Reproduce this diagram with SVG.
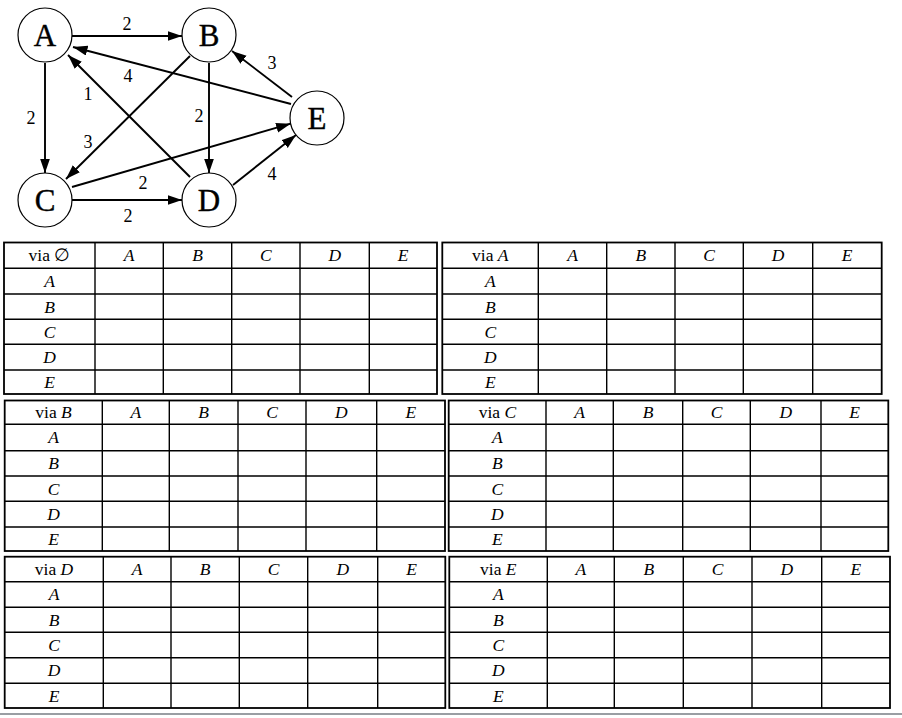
<svg xmlns="http://www.w3.org/2000/svg" width="902" height="718" viewBox="0 0 902 718">
<style>
.node{fill:#fff;stroke:#000;stroke-width:1.2}
.nl{font-family:"Liberation Serif","DejaVu Serif",serif;font-size:31px;text-anchor:middle;fill:#000;stroke:#000;stroke-width:0.4}
.edge{stroke:#000;stroke-width:1.9;fill:none;marker-end:url(#ah)}
.el{font-family:"Liberation Serif","DejaVu Serif",serif;font-size:18px;text-anchor:middle;fill:#000}
.tb{fill:#fff;stroke:#000;stroke-width:1.8}
.gl{stroke:#000;stroke-width:1.4}
.t{font-family:"Liberation Serif","DejaVu Serif",serif;font-size:17.5px;text-anchor:middle;fill:#000}
.i{font-style:italic}
</style>
<defs>
<marker id="ah" markerUnits="userSpaceOnUse" markerWidth="16" markerHeight="11" refX="14.5" refY="5" orient="auto">
<path d="M0,0 L14.5,5 L0,10 z" fill="#000"/>
</marker>
</defs>
<rect width="902" height="718" fill="#fff"/>

<g id="connectors">
<line class="edge" x1="72" y1="36" x2="182" y2="36"/>
<line class="edge" x1="45" y1="63" x2="45" y2="173"/>
<line class="edge" x1="209" y1="63" x2="209" y2="173"/>
<line class="edge" x1="72" y1="200" x2="182" y2="200"/>
<line class="edge" x1="190" y1="56" x2="66" y2="179"/>
<line class="edge" x1="190" y1="177" x2="68" y2="55"/>
<line class="edge" x1="291" y1="104" x2="73" y2="47"/>
<line class="edge" x1="72" y1="187" x2="290.6" y2="123.7"/>
<line class="edge" x1="292" y1="97" x2="232" y2="51"/>
<line class="edge" x1="233" y1="185" x2="296" y2="135"/>
<text class="el" x="127" y="30">2</text>
<text class="el" x="31" y="124">2</text>
<text class="el" x="88" y="148">3</text>
<text class="el" x="199" y="122">2</text>
<text class="el" x="128" y="222">2</text>
<text class="el" x="143" y="189">2</text>
<text class="el" x="88" y="100">1</text>
<text class="el" x="128" y="82">4</text>
<text class="el" x="272" y="69">3</text>
<text class="el" x="272" y="180">4</text>
</g>

<g id="node-A"><circle class="node" cx="45" cy="35" r="27"/><text class="nl" x="45" y="46">A</text></g>
<g id="node-B"><circle class="node" cx="209" cy="35" r="27"/><text class="nl" x="209" y="46">B</text></g>
<g id="node-C"><circle class="node" cx="45" cy="200" r="27"/><text class="nl" x="45" y="211">C</text></g>
<g id="node-D"><circle class="node" cx="209" cy="200" r="27"/><text class="nl" x="209" y="211">D</text></g>
<g id="node-E"><circle class="node" cx="317" cy="118" r="27"/><text class="nl" x="317" y="129">E</text></g>

<g id="table-via-empty">
<rect class="tb" x="4" y="242.5" width="433" height="151.5"/>
<path class="gl" d="M95,242.5V394M163.3,242.5V394M231.7,242.5V394M300,242.5V394M369.3,242.5V394M4,268.3H437M4,294H437M4,319.3H437M4,344.3H437M4,370H437"/>
<text class="t" x="49.5" y="261.4">via ∅</text>
<text class="t i" x="129.2" y="261.4">A</text><text class="t i" x="197.5" y="261.4">B</text><text class="t i" x="265.9" y="261.4">C</text><text class="t i" x="334.7" y="261.4">D</text><text class="t i" x="403.2" y="261.4">E</text>
<text class="t i" x="49.5" y="287.1">A</text><text class="t i" x="49.5" y="312.6">B</text><text class="t i" x="49.5" y="337.7">C</text><text class="t i" x="49.5" y="363.1">D</text><text class="t i" x="49.5" y="387.9">E</text>
</g>

<g id="table-via-A">
<rect class="tb" x="442.3" y="242.5" width="439.4" height="151.5"/>
<path class="gl" d="M538.3,242.5V394M606.7,242.5V394M675,242.5V394M743.3,242.5V394M812.7,242.5V394M442.3,268.3H881.7M442.3,294H881.7M442.3,319.3H881.7M442.3,344.3H881.7M442.3,370H881.7"/>
<text class="t" x="490.3" y="261.4">via <tspan class="i">A</tspan></text>
<text class="t i" x="572.5" y="261.4">A</text><text class="t i" x="640.9" y="261.4">B</text><text class="t i" x="709.2" y="261.4">C</text><text class="t i" x="778" y="261.4">D</text><text class="t i" x="847.2" y="261.4">E</text>
<text class="t i" x="490.3" y="287.1">A</text><text class="t i" x="490.3" y="312.6">B</text><text class="t i" x="490.3" y="337.7">C</text><text class="t i" x="490.3" y="363.1">D</text><text class="t i" x="490.3" y="387.9">E</text>
</g>

<g id="table-via-B">
<rect class="tb" x="4.7" y="400.5" width="440.3" height="150.5"/>
<path class="gl" d="M102.3,400.5V551M169.3,400.5V551M238,400.5V551M306,400.5V551M376.7,400.5V551M4.7,424.3H445M4.7,450.7H445M4.7,476H445M4.7,501.3H445M4.7,527H445"/>
<text class="t" x="53.5" y="418.4">via <tspan class="i">B</tspan></text>
<text class="t i" x="135.8" y="418.4">A</text><text class="t i" x="203.7" y="418.4">B</text><text class="t i" x="272" y="418.4">C</text><text class="t i" x="341.4" y="418.4">D</text><text class="t i" x="410.9" y="418.4">E</text>
<text class="t i" x="53.5" y="443.4">A</text><text class="t i" x="53.5" y="469.3">B</text><text class="t i" x="53.5" y="494.6">C</text><text class="t i" x="53.5" y="520.1">D</text><text class="t i" x="53.5" y="544.9">E</text>
</g>

<g id="table-via-C">
<rect class="tb" x="448.7" y="400.5" width="439.6" height="150.5"/>
<path class="gl" d="M546,400.5V551M613.3,400.5V551M682.7,400.5V551M750.3,400.5V551M821,400.5V551M448.7,424.3H888.3M448.7,450.7H888.3M448.7,476H888.3M448.7,501.3H888.3M448.7,527H888.3"/>
<text class="t" x="497.4" y="418.4">via <tspan class="i">C</tspan></text>
<text class="t i" x="579.7" y="418.4">A</text><text class="t i" x="648" y="418.4">B</text><text class="t i" x="716.5" y="418.4">C</text><text class="t i" x="785.7" y="418.4">D</text><text class="t i" x="854.7" y="418.4">E</text>
<text class="t i" x="497.4" y="443.4">A</text><text class="t i" x="497.4" y="469.3">B</text><text class="t i" x="497.4" y="494.6">C</text><text class="t i" x="497.4" y="520.1">D</text><text class="t i" x="497.4" y="544.9">E</text>
</g>

<g id="table-via-D">
<rect class="tb" x="4.7" y="556.7" width="440.6" height="151.3"/>
<path class="gl" d="M103.3,556.7V708M171,556.7V708M239.3,556.7V708M307.7,556.7V708M377.7,556.7V708M4.7,581.7H445.3M4.7,607.3H445.3M4.7,632.3H445.3M4.7,657.7H445.3M4.7,683.3H445.3"/>
<text class="t" x="54" y="575.1">via <tspan class="i">D</tspan></text>
<text class="t i" x="137.2" y="575.1">A</text><text class="t i" x="205.2" y="575.1">B</text><text class="t i" x="273.5" y="575.1">C</text><text class="t i" x="342.7" y="575.1">D</text><text class="t i" x="411.5" y="575.1">E</text>
<text class="t i" x="54" y="600.4">A</text><text class="t i" x="54" y="625.7">B</text><text class="t i" x="54" y="650.9">C</text><text class="t i" x="54" y="676.4">D</text><text class="t i" x="54" y="701.6">E</text>
</g>

<g id="table-via-E">
<rect class="tb" x="449.3" y="556.7" width="440.7" height="151.3"/>
<path class="gl" d="M547.3,556.7V708M614.3,556.7V708M683.3,556.7V708M752,556.7V708M821.7,556.7V708M449.3,581.7H890M449.3,607.3H890M449.3,632.3H890M449.3,657.7H890M449.3,683.3H890"/>
<text class="t" x="498.3" y="575.1">via <tspan class="i">E</tspan></text>
<text class="t i" x="580.8" y="575.1">A</text><text class="t i" x="648.8" y="575.1">B</text><text class="t i" x="717.7" y="575.1">C</text><text class="t i" x="786.9" y="575.1">D</text><text class="t i" x="855.9" y="575.1">E</text>
<text class="t i" x="498.3" y="600.4">A</text><text class="t i" x="498.3" y="625.7">B</text><text class="t i" x="498.3" y="650.9">C</text><text class="t i" x="498.3" y="676.4">D</text><text class="t i" x="498.3" y="701.6">E</text>
</g>

<line x1="0" y1="714" x2="902" y2="714" stroke="#9a9ea3" stroke-width="2"/>
</svg>
